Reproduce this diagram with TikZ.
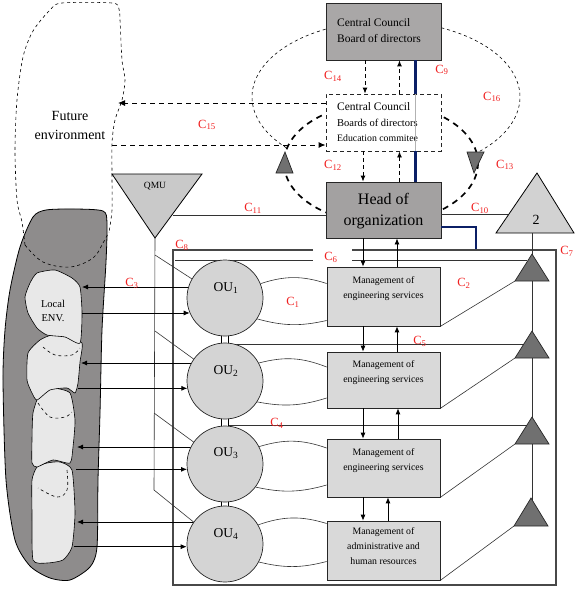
\documentclass[tikz,border=0pt]{standalone}
\usepackage{fontspec}
\setmainfont{Liberation Serif}
\usetikzlibrary{arrows.meta,calc}
\definecolor{labred}{HTML}{F02020}
\definecolor{ccgray}{HTML}{A9A7A7}
\definecolor{hgray}{HTML}{A3A1A1}
\definecolor{mgray}{HTML}{D9D9D9}
\definecolor{cgray}{HTML}{D4D4D4}
\definecolor{qgray}{HTML}{C9C9C9}
\definecolor{ttgray}{HTML}{D2D2D2}
\definecolor{dtgray}{HTML}{707070}
\definecolor{rockgray}{HTML}{8E8C8C}
\definecolor{patchgray}{HTML}{E8E8E8}
\definecolor{navyline}{HTML}{0B1F66}
\definecolor{framegray}{HTML}{484848}
\newcommand{\clab}[1]{C\textsubscript{#1}}
\begin{document}
\begin{tikzpicture}[x=1pt,y=-1pt,
  arr/.style={-{Latex[length=6pt,width=5pt]}, line width=0.8pt},
  darr/.style={-{Latex[length=6pt,width=5pt]}, line width=0.9pt, dash pattern=on 4pt off 3pt},
  cdash/.style={-{Latex[length=7pt,width=6pt]}, line width=1pt, dash pattern=on 5pt off 4pt},
  lbl/.style={text=labred, font=\fontsize{12.5}{12.5}\selectfont, inner sep=0pt},
  ln/.style={line width=0.6pt, draw=black!80},
  cbox/.style={draw=black!85, line width=0.8pt, minimum width=115pt, minimum height=57pt, inner sep=0pt},
  mbox/.style={draw=black!85, fill=mgray, line width=0.7pt, minimum width=113pt, inner sep=0pt},
  mtext/.style={font=\fontsize{9.8}{15}\selectfont, align=center, inner sep=0pt},
  ou/.style={circle, draw=black!85, fill=cgray, line width=0.7pt, minimum size=76pt, inner sep=0pt},
  dtri/.style={draw=black!85, fill=dtgray, line width=0.7pt},
  patch/.style={draw=black, fill=patchgray, line width=0.6pt},
  soft/.style={dashed, line width=0.6pt},
  frameout/.style={draw=framegray, line width=1.8pt}]
\useasboundingbox (0,0) rectangle (576,590);

% ---------- rock (local environment) ----------
\draw[fill=rockgray, line width=0.8pt] plot[smooth cycle, tension=0.45] coordinates {(46,210) (75,209) (103,211) (107,223) (106,262) (102,330) (100,413) (98,480) (97,547) (90,567) (70,580) (50,578) (30,566) (15,540) (6,480) (3,380) (5,330) (10,290) (20,247) (33,217)};
\draw[patch] plot[smooth cycle, tension=0.35] coordinates {(47,463) (60,462) (72,470) (75,513) (72,547) (63,560) (47,563) (33,560) (32,513) (32,480) (37,467)};
\draw[patch] plot[smooth cycle, tension=0.35] coordinates {(40,393) (52,388) (70,393) (75,420) (73,447) (70,463) (53,460) (37,467) (32,463) (32,440) (33,413)};
\draw[patch] plot[smooth cycle, tension=0.35] coordinates {(40,340) (52,335) (67,337) (82,343) (80,362) (78,383) (75,393) (67,388) (50,390) (37,400) (32,393) (27,380) (28,353)};
\draw[patch] plot[smooth cycle, tension=0.35] coordinates {(37,273) (55,270) (72,278) (80,287) (82,313) (80,343) (65,337) (47,335) (37,328) (28,313) (25,297) (30,283)};
\draw[soft] plot[smooth, tension=0.6] coordinates {(43,347) (55,355) (72,355) (80,348)};
\draw[soft] plot[smooth, tension=0.6] coordinates {(38,403) (50,417) (65,417) (72,412)};
\draw[soft] plot[smooth, tension=0.6] coordinates {(67,470) (67,490) (57,497) (38,488)};
\node[font=\fontsize{10.5}{14}\selectfont, align=center, inner sep=0pt] (locenv) at (53,311) {Local\\ENV.};

% ---------- future environment ----------
\draw[soft] plot[smooth, tension=0.5] coordinates {(25,245) (22,222) (17,200) (15,150) (17,100) (23,57) (33,31) (50,10) (62,3) (112,3) (119,9) (120,20) (122,60) (125,80) (122,100) (115,120) (112,143) (112,175) (112,210) (109,232)};
\draw[soft] plot[smooth, tension=0.6] coordinates {(25,245) (43,262) (70,267) (93,258) (103,243) (109,232)};
\node[font=\fontsize{14}{19}\selectfont, align=center, inner sep=0pt] (futenv) at (70,125) {Future\\environment};

% ---------- ellipses ----------
\draw[soft] plot[domain=138:406, samples=90, smooth] ({386+134*cos(\x)},{97+76*sin(\x)});
\draw[line width=1.7pt, dash pattern=on 6pt off 5pt] plot[domain=0:360, samples=120, smooth] ({381+97*cos(\x)},{163+60*sin(\x)});
\draw[dtri] (285,152) -- (293,173) -- (276,173) -- cycle;
\draw[dtri] (467,152) -- (484,152) -- (474,173) -- cycle;

% ---------- top boxes ----------
\node[cbox, fill=ccgray] (cc) at (383.5,31.5) {};
\node[anchor=west, align=left, font=\fontsize{11.5}{16}\selectfont, inner sep=0pt] (cctext) at (337,31) {Central Council\\Board of directors};
\node[cbox, fill=white, dashed, line width=0.9pt, dash pattern=on 4pt off 3pt] (cce) at (383.5,122.5) {};
\node[anchor=west, font=\fontsize{11.5}{12}\selectfont, inner sep=0pt] (ccet1) at (337,107) {Central Council};
\node[anchor=west, font=\fontsize{10.5}{12}\selectfont, inner sep=0pt] (ccet2) at (337,123) {Boards of directors};
\node[anchor=west, font=\fontsize{9.8}{12}\selectfont, inner sep=0pt] (ccet3) at (337,138.5) {Education commitee};
\node[cbox, fill=hgray, minimum height=56pt] (head) at (383.5,210) {};
\node[font=\fontsize{16}{21}\selectfont, align=center, inner sep=0pt] (headtext) at (383.5,211) {Head of\\organization};

% ---------- C15 dashed arrows ----------
\coordinate (fe1) at (118,103);
\coordinate (fe2) at (112,145);
\draw[cdash] (cce.west |- fe1) -- (fe1);
\draw[cdash] (fe2) -- (cce.west |- fe2);

% ---------- dashed vertical arrows ----------
\draw[darr] ([xshift=-18.5pt]cc.south) -- ([xshift=-18.5pt]cce.north);
\draw[darr] ([xshift=16pt]cce.north) -- ([xshift=16pt]cc.south);
\draw[darr] ([xshift=-20.5pt]cce.south) -- ([xshift=-20.5pt]head.north);
\draw[darr] ([xshift=16pt]head.north) -- ([xshift=16pt]cce.south);

% ---------- navy line ----------
\draw[navyline, line width=2.6pt] ([xshift=32pt]cc.south) -- ([xshift=32pt]cce.north);
\draw[gray!60, line width=0.5pt] ([xshift=32pt]cce.north) -- ([xshift=32pt]cce.south);
\draw[navyline, line width=2.6pt] ([xshift=32pt]cce.south) -- ([xshift=32pt]head.north);
\coordinate (nv) at (476,251);
\draw[navyline, line width=2.6pt] ([yshift=-17pt]head.east) -| (nv);

% ---------- QMU ----------
\coordinate (qa) at (112,174);
\coordinate (qb) at (202,174);
\coordinate (qc) at (155,238);
\draw[fill=qgray, line width=0.8pt] (qa) -- (qb) -- (qc) -- cycle;
\node[font=\fontsize{9.5}{10}\selectfont, inner sep=0pt] (qmu) at (155,186) {QMU};
\coordinate (qr) at (173,215);
\draw[ln] (qr) -- (head.west |- qr);
\coordinate (qv) at (154,490);
\draw[ln] (qc) -- (qv);

% ---------- triangle 2 ----------
\coordinate (ta) at (537,173);
\coordinate (tb) at (574,233);
\coordinate (tc) at (496,233);
\draw[fill=ttgray, line width=0.8pt] (ta) -- (tb) -- (tc) -- cycle;
\node[font=\fontsize{14}{14}\selectfont, inner sep=0pt] (two) at (536,220) {2};
\coordinate (tl) at (508,214);
\draw[ln] ([yshift=-4pt]head.east) -- (tl);

% ---------- frame ----------
\coordinate (fa) at (313,250);
\coordinate (fb) at (173,250);
\coordinate (fc) at (173,585);
\coordinate (fd) at (556,585);
\coordinate (fe) at (556,250);
\coordinate (ff) at (352,250);
\draw[frameout] (fa) -- (fb) -- (fc) -- (fd) -- (fe) -- (ff);
\coordinate (t1l) at (527,260);
\draw[ln] (175,260) -- (313,260);
\draw[ln] (352,260) -- (t1l);

% ---------- right column ----------
\coordinate (vtop) at (532,233);
\coordinate (vbot) at (532,500);
\draw[ln] (vtop) -- (vbot);
\coordinate (j12) at (229,344);
\coordinate (j23) at (229,425);
\coordinate (t2l) at (524,344);
\coordinate (t3l) at (527,425);
\draw[ln] (j12) -- (t2l);
\draw[ln] (j23) -- (t3l);

% ---------- management boxes ----------
\node[mbox, minimum height=59pt] (m1) at (383.5,296.5) {};
\node[mbox, minimum height=56pt] (m2) at (383.5,380) {};
\node[mbox, minimum height=58pt] (m3) at (383.5,468) {};
\node[mbox, minimum height=59pt] (m4) at (383.5,550.5) {};
\node[mtext] (m1t) at (383.5,288.5) {Management of\\engineering services};
\node[mtext] (m2t) at (383.5,373) {Management of\\engineering services};
\node[mtext] (m3t) at (383.5,461) {Management of\\engineering services};
\node[mtext] (m4t) at (383.5,546.5) {Management of\\administrative and\\human resources};

% dark triangles
\coordinate (T1a) at (532,254); \coordinate (T1l) at (515,281); \coordinate (T1r) at (549,281);
\coordinate (T2a) at (532,331); \coordinate (T2l) at (515,358); \coordinate (T2r) at (549,358);
\coordinate (T3a) at (532,417); \coordinate (T3l) at (515,444); \coordinate (T3r) at (549,444);
\coordinate (T4a) at (531,498); \coordinate (T4l) at (514,526); \coordinate (T4r) at (548,526);
\draw[ln] (m1.south east) -- (T1l);
\draw[ln] (m2.south east) -- (T2l);
\draw[ln] (m3.south east) -- (T3l);
\draw[ln] (m4.south east) -- (T4l);
\draw[dtri] (T1a) -- (T1r) -- (T1l) -- cycle;
\draw[dtri] (T2a) -- (T2r) -- (T2l) -- cycle;
\draw[dtri] (T3a) -- (T3r) -- (T3l) -- cycle;
\draw[dtri] (T4a) -- (T4r) -- (T4l) -- cycle;

% vertical arrows between management levels
\draw[arr] ([xshift=-20.5pt]head.south) -- ([xshift=-20.5pt]m1.north);
\draw[arr] ([xshift=13.5pt]m1.north) -- ([xshift=13.5pt]head.south);
\draw[arr] ([xshift=-20.5pt]m1.south) -- ([xshift=-20.5pt]m2.north);
\draw[arr] ([xshift=13.5pt]m2.north) -- ([xshift=13.5pt]m1.south);
\draw[arr] ([xshift=-20.5pt]m2.south) -- ([xshift=-20.5pt]m3.north);
\draw[arr] ([xshift=14.5pt]m3.north) -- ([xshift=14.5pt]m2.south);
\draw[arr] ([xshift=-20.5pt]m3.south) -- ([xshift=-20.5pt]m4.north);
\draw[arr] ([xshift=4.5pt]m4.north) -- ([xshift=4.5pt]m3.south);

% ---------- OU circles ----------
\coordinate (o1) at (225,298);
\coordinate (o2) at (225,381);
\coordinate (o3) at (225,464);
\coordinate (o4) at (225,544);
\draw[line width=0.6pt, fill=white] ([xshift=-3.5pt]o1) rectangle ([xshift=3.5pt]o4);
% left arrows (circle -> local environment)
\coordinate (l1) at (82,287);
\coordinate (l2) at (81,363);
\coordinate (l3) at (77,447);
\coordinate (l4) at (77,522);
\draw[arr] (o1 |- l1) -- (l1);
\draw[arr] (o2 |- l2) -- (l2);
\draw[arr] (o3 |- l3) -- (l3);
\draw[arr] (o4 |- l4) -- (l4);
% QMU diagonals
\coordinate (d1) at (155,255);
\coordinate (d2) at (155,331);
\coordinate (d3) at (154,413);
\coordinate (d4) at (154,490);
\node[ou] (ou1) at (o1) {};
\node[ou] (ou2) at (o2) {};
\node[ou] (ou3) at (o3) {};
\node[ou] (ou4) at (o4) {};
\draw[ln] (d1) -- (ou1.150);
\draw[ln] (d2) -- (ou2.145);
\draw[ln] (d3) -- (ou3.145);
\draw[ln] (d4) -- (ou4.145);
\node[font=\fontsize{13.5}{13.5}\selectfont, inner sep=0pt] (ou1t) at (226,288) {OU\textsubscript{1}};
\node[font=\fontsize{13.5}{13.5}\selectfont, inner sep=0pt] (ou2t) at (226,371) {OU\textsubscript{2}};
\node[font=\fontsize{13.5}{13.5}\selectfont, inner sep=0pt] (ou3t) at (226,453) {OU\textsubscript{3}};
\node[font=\fontsize{13.5}{13.5}\selectfont, inner sep=0pt] (ou4t) at (226,534) {OU\textsubscript{4}};
% right arrows (local environment -> circle)
\coordinate (e1) at (82,0);
\coordinate (e2) at (78,0);
\coordinate (e3) at (76,0);
\coordinate (e4) at (74,0);
\draw[arr] (e1 |- ou1.203) -- (ou1.203);
\draw[arr] (e2 |- ou2.191) -- (ou2.191);
\draw[arr] (e3 |- ou3.188) -- (ou3.188);
\draw[arr] (e4 |- ou4.184) -- (ou4.184);
% lens curves
\draw[ln] (ou1.22) to[bend left=18] ([yshift=13pt]m1.west);
\draw[ln] (ou1.-33) to[bend right=14] ([yshift=-24pt]m1.west);
\draw[ln] (ou2.28) to[bend left=18] ([yshift=13pt]m2.west);
\draw[ln] (ou2.-33) to[bend right=14] ([yshift=-18pt]m2.west);
\draw[ln] (ou3.27) to[bend left=18] ([yshift=20pt]m3.west);
\draw[ln] (ou3.-37) to[bend right=14] ([yshift=-17pt]m3.west);
\draw[ln] (ou4.30) to[bend left=18] ([yshift=27pt]m4.west);
\draw[ln] (ou4.-28) to[bend right=14] ([yshift=-11pt]m4.west);

% ---------- labels ----------
\node[lbl] (c14) at (333,76) {\clab{14}};
\node[lbl] (c9) at (442,70) {\clab{9}};
\node[lbl] (c16) at (492,97) {\clab{16}};
\node[lbl] (c15) at (207,125) {\clab{15}};
\node[lbl] (c12) at (333,165) {\clab{12}};
\node[lbl] (c13) at (505,165) {\clab{13}};
\node[lbl] (c11) at (253,208) {\clab{11}};
\node[lbl] (c10) at (480,208) {\clab{10}};
\node[lbl] (c8) at (182,245) {\clab{8}};
\node[lbl] (c6) at (331,257) {\clab{6}};
\node[lbl] (c7) at (567,251) {\clab{7}};
\node[lbl] (c3) at (132,283) {\clab{3}};
\node[lbl] (c1) at (293,302) {\clab{1}};
\node[lbl] (c2) at (464,283) {\clab{2}};
\node[lbl] (c5) at (420,341) {\clab{5}};
\node[lbl] (c4) at (277,423) {\clab{4}};
\end{tikzpicture}
\end{document}
